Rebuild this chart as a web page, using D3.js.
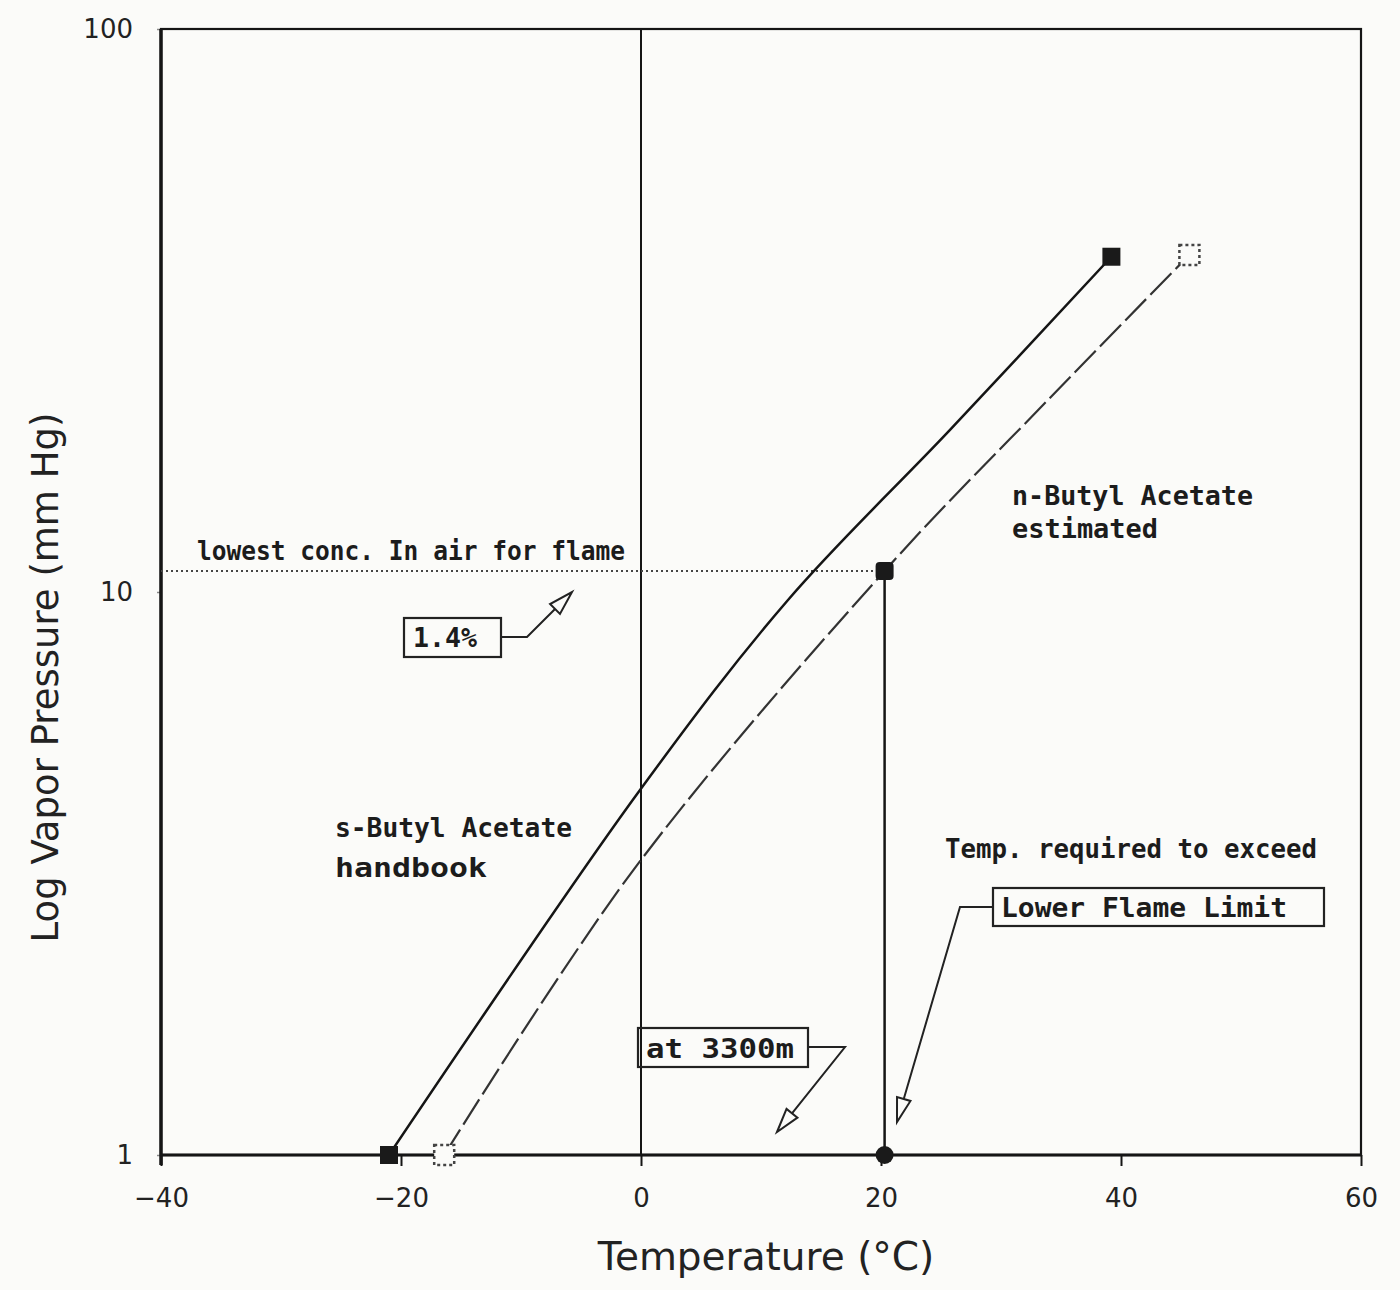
<!DOCTYPE html>
<html lang="en">
<head>
<meta charset="UTF-8">
<script src="https://cdn.jsdelivr.net/npm/d3@7"></script>
<title>Log Vapor Pressure vs Temperature</title>
<style>
    body {
        margin: 0;
        background: #fbfbf9;
    }
    svg {
        display: block;
    }
    .axis text {
        font-family: "DejaVu Sans", sans-serif;
        fill: #222;
    }
    .note {
        font-family: "DejaVu Sans Mono", monospace;
        font-weight: bold;
        font-size: 26px;
        fill: #1c1c1c;
    }
</style>
</head>
<body>
<div id="chart"></div>
<script>
    const width = 1400, height = 1290;

    const xTicks = [-40, -20, 0, 20, 40, 60];
    const yTicks = [1, 10, 100];

    // s-Butyl Acetate, handbook values
    const handbookTemp = [-21.0, -0.25, 12.25, 25.75, 39.2];
    const handbookPres = [1.0, 4.40, 9.68, 19.4, 39.4];

    // n-Butyl Acetate, estimated
    const estimatedTemp = [-16.4, -0.67, 20.3, 33.7, 45.7];
    const estimatedPres = [1.0, 3.2, 10.9, 21.7, 39.7];

    // lowest conc. in air for flame (1.4%) and the temperature needed to reach it
    const flamePres = 10.9;
    const flameTemp = 20.3;

    const x = d3.scaleLinear().domain([-40, 60]).range([161, 1361]);
    const y = d3.scaleLog().domain([1, 100]).range([1155, 29]);

    const svg = d3.select("#chart").append("svg")
        .attr("width", width)
        .attr("height", height);

    const ink = "#151515";

    // axes
    const xAxis = svg.append("g")
        .attr("class", "axis")
        .attr("transform", `translate(0,${y(1)})`)
        .call(d3.axisBottom(x).tickValues(xTicks).tickFormat(d3.format("d"))
            .tickSize(11).tickSizeOuter(0).tickPadding(23));
    xAxis.select(".domain").remove();
    xAxis.selectAll("line").attr("stroke", ink).attr("stroke-width", 2);
    xAxis.selectAll("text").attr("font-size", 26);

    const yAxis = svg.append("g")
        .attr("class", "axis")
        .attr("transform", `translate(${x(-40)},0)`)
        .call(d3.axisLeft(y).tickValues(yTicks).tickFormat(d3.format("d"))
            .tickSize(4).tickSizeOuter(0).tickPadding(24));
    yAxis.select(".domain").remove();
    yAxis.selectAll("line").attr("stroke", "#888").attr("stroke-width", 1.5);
    yAxis.selectAll("text").attr("font-size", 26);

    // frame
    svg.append("rect")
        .attr("x", x(-40)).attr("y", y(100))
        .attr("width", x(60) - x(-40)).attr("height", y(1) - y(100))
        .attr("fill", "none").attr("stroke", ink).attr("stroke-width", 2.2);
    svg.append("line")
        .attr("x1", x(-40)).attr("x2", x(-40))
        .attr("y1", y(100)).attr("y2", y(1) + 10)
        .attr("stroke", ink).attr("stroke-width", 3.5);
    svg.append("line")
        .attr("x1", x(-40)).attr("x2", x(60))
        .attr("y1", y(1)).attr("y2", y(1))
        .attr("stroke", ink).attr("stroke-width", 3);

    // 0 degree line
    svg.append("line")
        .attr("x1", x(0)).attr("x2", x(0))
        .attr("y1", y(100)).attr("y2", y(1))
        .attr("stroke", ink).attr("stroke-width", 2);

    // axis titles
    svg.append("text")
        .attr("x", (x(-40) + x(60)) / 2 + 5)
        .attr("y", 1270)
        .attr("text-anchor", "middle")
        .attr("font-family", "\"DejaVu Sans\", sans-serif")
        .attr("font-size", 39)
        .attr("fill", "#222")
        .text("Temperature (°C)");

    svg.append("text")
        .attr("transform", `translate(58,${(405 + 950) / 2}) rotate(-90)`)
        .attr("text-anchor", "middle")
        .attr("font-family", "\"DejaVu Sans\", sans-serif")
        .attr("font-size", 37)
        .attr("fill", "#222")
        .text("Log Vapor Pressure (mm Hg)");

    // dotted threshold line
    svg.append("line")
        .attr("x1", x(-40)).attr("x2", x(flameTemp))
        .attr("y1", y(flamePres)).attr("y2", y(flamePres))
        .attr("stroke", "#444").attr("stroke-width", 2)
        .attr("stroke-dasharray", "2,3");

    // drop line to axis
    svg.append("line")
        .attr("x1", x(flameTemp)).attr("x2", x(flameTemp))
        .attr("y1", y(flamePres)).attr("y2", y(1))
        .attr("stroke", ink).attr("stroke-width", 2.5);

    const line = d3.line()
        .x(d => x(d[0]))
        .y(d => y(d[1]))
        .curve(d3.curveCatmullRom.alpha(0.5));

    const handbook = handbookTemp.map((t, i) => [t, handbookPres[i]]);
    const estimated = estimatedTemp.map((t, i) => [t, estimatedPres[i]]);

    svg.append("path")
        .attr("d", line(handbook))
        .attr("fill", "none").attr("stroke", ink).attr("stroke-width", 2.5);

    svg.append("path")
        .attr("d", line(estimated))
        .attr("fill", "none").attr("stroke", "#333").attr("stroke-width", 2.2)
        .attr("stroke-dasharray", "30,6");

    // end markers
    const s = 18;
    svg.selectAll(".hb-mark")
        .data([handbook[0], handbook[handbook.length - 1]])
        .enter().append("rect")
        .attr("x", d => x(d[0]) - s / 2).attr("y", d => y(d[1]) - s / 2)
        .attr("width", s).attr("height", s)
        .attr("fill", "#1a1a1a");

    svg.selectAll(".est-mark")
        .data([estimated[0], estimated[estimated.length - 1]])
        .enter().append("rect")
        .attr("x", d => x(d[0]) - 10).attr("y", d => y(d[1]) - 10)
        .attr("width", 20).attr("height", 20)
        .attr("fill", "#fbfbf9").attr("stroke", "#444").attr("stroke-width", 2.5)
        .attr("stroke-dasharray", "3,3");

    svg.append("rect")
        .attr("x", x(flameTemp) - 9).attr("y", y(flamePres) - 9)
        .attr("width", 18).attr("height", 18).attr("rx", 4)
        .attr("fill", "#1a1a1a");

    svg.append("circle")
        .attr("cx", x(flameTemp)).attr("cy", y(1)).attr("r", 9)
        .attr("fill", "#1a1a1a");

    // annotations
    const note = (tx, ty, str, len) => svg.append("text")
        .attr("class", "note")
        .attr("x", tx).attr("y", ty)
        .attr("textLength", len).attr("lengthAdjust", "spacingAndGlyphs")
        .text(str);

    const box = (bx, by, bw, bh) => svg.append("rect")
        .attr("x", bx).attr("y", by).attr("width", bw).attr("height", bh)
        .attr("fill", "none").attr("stroke", "#222").attr("stroke-width", 2.2);

    const arrow = (pts) => {
        const tip = pts[pts.length - 1];
        const prev = pts[pts.length - 2];
        const dx = tip[0] - prev[0], dy = tip[1] - prev[1];
        const len = Math.hypot(dx, dy);
        const ux = dx / len, uy = dy / len;
        const L = 24, w = 7;
        const bx = tip[0] - ux * L, by = tip[1] - uy * L;
        const shaft = pts.slice(0, -1).concat([[bx, by]]);
        svg.append("path")
            .attr("d", d3.line()(shaft))
            .attr("fill", "none").attr("stroke", "#222").attr("stroke-width", 2);
        svg.append("path")
            .attr("d", d3.line()([tip, [bx - uy * w, by + ux * w], [bx + uy * w, by - ux * w]]) + "Z")
            .attr("fill", "#fbfbf9").attr("stroke", "#222").attr("stroke-width", 2);
    };

    note(197, 560, "lowest conc. In air for flame", 428);

    box(404, 618, 97, 39);
    note(413, 647, "1.4%", 64);
    arrow([[501, 637], [527, 637], [572, 592]]);

    note(335, 837, "s-Butyl Acetate", 237);
    note(335, 877, "handbook", 152);

    note(1012, 505, "n-Butyl Acetate", 241);
    note(1012, 538, "estimated", 146);

    note(945, 858, "Temp. required to exceed", 372);
    box(993, 888, 331, 38);
    note(1001, 917, "Lower Flame Limit", 286);
    arrow([[993, 907], [960, 907], [897, 1122]]);

    box(638, 1028, 170, 39);
    note(646, 1058, "at 3300m", 148);
    arrow([[808, 1047], [845, 1047], [777, 1132]]);
</script>
</body>
</html>
